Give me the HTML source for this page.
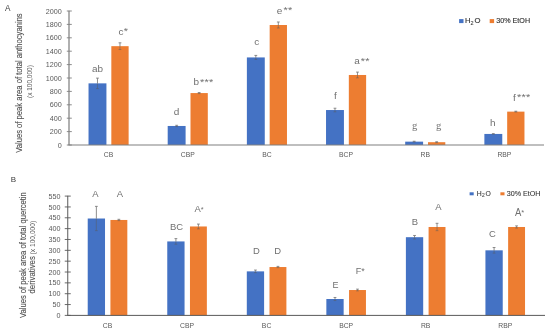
<!DOCTYPE html>
<html><head><meta charset="utf-8"><title>Figure</title>
<style>
html,body{margin:0;padding:0;background:#fff;}
svg{display:block;filter:blur(0.3px);font-family:"Liberation Sans","DejaVu Sans",sans-serif;}
</style></head><body>
<svg width="550" height="333" viewBox="0 0 550 333">
<rect width="550" height="333" fill="#fff"/>
<rect x="88.53" y="83.36" width="17.9" height="61.64" fill="#4472c4"/>
<path d="M97.48 78.13V83.36M96.08 78.13h2.8" stroke="#7a7a7a" stroke-width="0.85" fill="none"/>
<path d="M97.48 83.36V88.59M96.08 88.59h2.8" stroke="#5a5a5a" stroke-opacity="0.55" stroke-width="0.85" fill="none"/>
<rect x="111.33" y="46.17" width="17.3" height="98.83" fill="#ed7d31"/>
<path d="M119.98 42.82V46.17M118.58 42.82h2.8" stroke="#7a7a7a" stroke-width="0.85" fill="none"/>
<path d="M119.98 46.17V49.52M118.58 49.52h2.8" stroke="#5a5a5a" stroke-opacity="0.55" stroke-width="0.85" fill="none"/>
<text x="108.58" y="157.0" font-size="6.8" text-anchor="middle" fill="#595959">CB</text>
<rect x="167.70" y="125.97" width="17.9" height="19.03" fill="#4472c4"/>
<path d="M176.65 125.30V125.97M175.25 125.30h2.8" stroke="#7a7a7a" stroke-width="0.85" fill="none"/>
<path d="M176.65 125.97V126.64M175.25 126.64h2.8" stroke="#5a5a5a" stroke-opacity="0.55" stroke-width="0.85" fill="none"/>
<rect x="190.50" y="93.07" width="17.3" height="51.93" fill="#ed7d31"/>
<path d="M199.15 92.54V93.07M197.75 92.54h2.8" stroke="#7a7a7a" stroke-width="0.85" fill="none"/>
<path d="M199.15 93.07V93.61M197.75 93.61h2.8" stroke="#5a5a5a" stroke-opacity="0.55" stroke-width="0.85" fill="none"/>
<text x="187.75" y="157.0" font-size="6.8" text-anchor="middle" fill="#595959">CBP</text>
<rect x="246.87" y="57.43" width="17.9" height="87.57" fill="#4472c4"/>
<path d="M255.82 55.42V57.43M254.42 55.42h2.8" stroke="#7a7a7a" stroke-width="0.85" fill="none"/>
<path d="M255.82 57.43V59.44M254.42 59.44h2.8" stroke="#5a5a5a" stroke-opacity="0.55" stroke-width="0.85" fill="none"/>
<rect x="269.67" y="25.00" width="17.3" height="120.00" fill="#ed7d31"/>
<path d="M278.32 21.99V25.00M276.92 21.99h2.8" stroke="#7a7a7a" stroke-width="0.85" fill="none"/>
<path d="M278.32 25.00V28.02M276.92 28.02h2.8" stroke="#5a5a5a" stroke-opacity="0.55" stroke-width="0.85" fill="none"/>
<text x="266.92" y="157.0" font-size="6.8" text-anchor="middle" fill="#595959">BC</text>
<rect x="326.03" y="110.03" width="17.9" height="34.97" fill="#4472c4"/>
<path d="M334.98 108.22V110.03M333.58 108.22h2.8" stroke="#7a7a7a" stroke-width="0.85" fill="none"/>
<path d="M334.98 110.03V111.83M333.58 111.83h2.8" stroke="#5a5a5a" stroke-opacity="0.55" stroke-width="0.85" fill="none"/>
<rect x="348.83" y="74.98" width="17.3" height="70.02" fill="#ed7d31"/>
<path d="M357.48 72.10V74.98M356.08 72.10h2.8" stroke="#7a7a7a" stroke-width="0.85" fill="none"/>
<path d="M357.48 74.98V77.87M356.08 77.87h2.8" stroke="#5a5a5a" stroke-opacity="0.55" stroke-width="0.85" fill="none"/>
<text x="346.08" y="157.0" font-size="6.8" text-anchor="middle" fill="#595959">BCP</text>
<rect x="405.20" y="141.65" width="17.9" height="3.35" fill="#4472c4"/>
<path d="M414.15 141.25V141.65M412.75 141.25h2.8" stroke="#7a7a7a" stroke-width="0.85" fill="none"/>
<path d="M414.15 141.65V142.05M412.75 142.05h2.8" stroke="#5a5a5a" stroke-opacity="0.55" stroke-width="0.85" fill="none"/>
<rect x="428.00" y="142.19" width="17.3" height="2.81" fill="#ed7d31"/>
<path d="M436.65 141.78V142.19M435.25 141.78h2.8" stroke="#7a7a7a" stroke-width="0.85" fill="none"/>
<path d="M436.65 142.19V142.59M435.25 142.59h2.8" stroke="#5a5a5a" stroke-opacity="0.55" stroke-width="0.85" fill="none"/>
<text x="425.25" y="157.0" font-size="6.8" text-anchor="middle" fill="#595959">RB</text>
<rect x="484.37" y="133.94" width="17.9" height="11.06" fill="#4472c4"/>
<path d="M493.32 133.68V133.94M491.92 133.68h2.8" stroke="#7a7a7a" stroke-width="0.85" fill="none"/>
<path d="M493.32 133.94V134.21M491.92 134.21h2.8" stroke="#5a5a5a" stroke-opacity="0.55" stroke-width="0.85" fill="none"/>
<rect x="507.17" y="111.63" width="17.3" height="33.37" fill="#ed7d31"/>
<path d="M515.82 111.23V111.63M514.42 111.23h2.8" stroke="#7a7a7a" stroke-width="0.85" fill="none"/>
<path d="M515.82 111.63V112.04M514.42 112.04h2.8" stroke="#5a5a5a" stroke-opacity="0.55" stroke-width="0.85" fill="none"/>
<text x="504.42" y="157.0" font-size="6.8" text-anchor="middle" fill="#595959">RBP</text>
<path d="M69.0 10.7V145.0" stroke="#808080" stroke-width="1.25" fill="none"/>
<path d="M68.375 145.0H544" stroke="#808080" stroke-width="1.05" fill="none"/>
<path d="M66.8 145.00H71.8" stroke="#808080" stroke-width="0.9" fill="none"/>
<text x="61.8" y="147.55" font-size="7.2" text-anchor="end" fill="#595959">0</text>
<path d="M66.8 131.60H71.8" stroke="#808080" stroke-width="0.9" fill="none"/>
<text x="61.8" y="134.15" font-size="7.2" text-anchor="end" fill="#595959">200</text>
<path d="M66.8 118.20H71.8" stroke="#808080" stroke-width="0.9" fill="none"/>
<text x="61.8" y="120.75" font-size="7.2" text-anchor="end" fill="#595959">400</text>
<path d="M66.8 104.80H71.8" stroke="#808080" stroke-width="0.9" fill="none"/>
<text x="61.8" y="107.35" font-size="7.2" text-anchor="end" fill="#595959">600</text>
<path d="M66.8 91.40H71.8" stroke="#808080" stroke-width="0.9" fill="none"/>
<text x="61.8" y="93.95" font-size="7.2" text-anchor="end" fill="#595959">800</text>
<path d="M66.8 78.00H71.8" stroke="#808080" stroke-width="0.9" fill="none"/>
<text x="61.8" y="80.55" font-size="7.2" text-anchor="end" fill="#595959">1000</text>
<path d="M66.8 64.60H71.8" stroke="#808080" stroke-width="0.9" fill="none"/>
<text x="61.8" y="67.15" font-size="7.2" text-anchor="end" fill="#595959">1200</text>
<path d="M66.8 51.20H71.8" stroke="#808080" stroke-width="0.9" fill="none"/>
<text x="61.8" y="53.75" font-size="7.2" text-anchor="end" fill="#595959">1400</text>
<path d="M66.8 37.80H71.8" stroke="#808080" stroke-width="0.9" fill="none"/>
<text x="61.8" y="40.35" font-size="7.2" text-anchor="end" fill="#595959">1600</text>
<path d="M66.8 24.40H71.8" stroke="#808080" stroke-width="0.9" fill="none"/>
<text x="61.8" y="26.95" font-size="7.2" text-anchor="end" fill="#595959">1800</text>
<path d="M66.8 11.00H71.8" stroke="#808080" stroke-width="0.9" fill="none"/>
<text x="61.8" y="13.55" font-size="7.2" text-anchor="end" fill="#595959">2000</text>
<text transform="translate(123.40 34.50) scale(1.22 1)" font-size="8.2" text-anchor="middle" fill="#707070"><tspan letter-spacing="0.3">c</tspan><tspan font-size="8.9" dy="-0.35" letter-spacing="0.25">*</tspan></text>
<text transform="translate(97.50 72.40) scale(1.22 1)" font-size="8.2" text-anchor="middle" fill="#707070">ab</text>
<text transform="translate(176.60 114.90) scale(1.22 1)" font-size="8.2" text-anchor="middle" fill="#707070">d</text>
<text transform="translate(203.50 85.20) scale(1.22 1)" font-size="8.2" text-anchor="middle" fill="#707070"><tspan letter-spacing="0.9">b</tspan><tspan font-size="8.9" dy="-0.35" letter-spacing="0.25">***</tspan></text>
<text transform="translate(256.70 45.20) scale(1.22 1)" font-size="8.2" text-anchor="middle" fill="#707070">c</text>
<text transform="translate(284.60 13.60) scale(1.22 1)" font-size="8.2" text-anchor="middle" fill="#707070"><tspan letter-spacing="0.9">e</tspan><tspan font-size="8.9" dy="-0.35" letter-spacing="0.25">**</tspan></text>
<text transform="translate(335.50 98.60) scale(1.22 1)" font-size="8.2" text-anchor="middle" fill="#707070">f</text>
<text transform="translate(362.00 64.00) scale(1.22 1)" font-size="8.2" text-anchor="middle" fill="#707070"><tspan letter-spacing="0.9">a</tspan><tspan font-size="8.9" dy="-0.35" letter-spacing="0.25">**</tspan></text>
<text transform="translate(492.80 126.20) scale(1.22 1)" font-size="8.2" text-anchor="middle" fill="#707070">h</text>
<text transform="translate(521.80 100.60) scale(1.22 1)" font-size="8.2" text-anchor="middle" fill="#707070"><tspan letter-spacing="0.9">f</tspan><tspan font-size="8.9" dy="-0.35" letter-spacing="0.25">***</tspan></text>
<text transform="translate(414.70 129.00) scale(1 1)" font-size="10.6" text-anchor="middle" fill="#707070" font-family="Liberation Serif, DejaVu Serif, serif">g</text>
<text transform="translate(438.60 129.00) scale(1 1)" font-size="10.6" text-anchor="middle" fill="#707070" font-family="Liberation Serif, DejaVu Serif, serif">g</text>
<rect x="87.72" y="218.51" width="17.3" height="96.89" fill="#4472c4"/>
<path d="M96.37 206.36V218.51M94.97 206.36h2.8" stroke="#7a7a7a" stroke-width="0.85" fill="none"/>
<path d="M96.37 218.51V230.65M94.97 230.65h2.8" stroke="#5a5a5a" stroke-opacity="0.55" stroke-width="0.85" fill="none"/>
<rect x="110.42" y="219.96" width="16.9" height="95.44" fill="#ed7d31"/>
<path d="M118.87 219.31V219.96M117.47 219.31h2.8" stroke="#7a7a7a" stroke-width="0.85" fill="none"/>
<path d="M118.87 219.96V220.61M117.47 220.61h2.8" stroke="#5a5a5a" stroke-opacity="0.55" stroke-width="0.85" fill="none"/>
<text x="107.52" y="327.6" font-size="6.8" text-anchor="middle" fill="#595959">CB</text>
<rect x="167.26" y="241.43" width="17.3" height="73.97" fill="#4472c4"/>
<path d="M175.91 238.61V241.43M174.51 238.61h2.8" stroke="#7a7a7a" stroke-width="0.85" fill="none"/>
<path d="M175.91 241.43V244.25M174.51 244.25h2.8" stroke="#5a5a5a" stroke-opacity="0.55" stroke-width="0.85" fill="none"/>
<rect x="189.96" y="226.47" width="16.9" height="88.93" fill="#ed7d31"/>
<path d="M198.41 224.08V226.47M197.01 224.08h2.8" stroke="#7a7a7a" stroke-width="0.85" fill="none"/>
<path d="M198.41 226.47V228.85M197.01 228.85h2.8" stroke="#5a5a5a" stroke-opacity="0.55" stroke-width="0.85" fill="none"/>
<text x="187.06" y="327.6" font-size="6.8" text-anchor="middle" fill="#595959">CBP</text>
<rect x="246.80" y="271.37" width="17.3" height="44.03" fill="#4472c4"/>
<path d="M255.45 270.07V271.37M254.05 270.07h2.8" stroke="#7a7a7a" stroke-width="0.85" fill="none"/>
<path d="M255.45 271.37V272.67M254.05 272.67h2.8" stroke="#5a5a5a" stroke-opacity="0.55" stroke-width="0.85" fill="none"/>
<rect x="269.50" y="267.03" width="16.9" height="48.37" fill="#ed7d31"/>
<path d="M277.95 266.38V267.03M276.55 266.38h2.8" stroke="#7a7a7a" stroke-width="0.85" fill="none"/>
<path d="M277.95 267.03V267.68M276.55 267.68h2.8" stroke="#5a5a5a" stroke-opacity="0.55" stroke-width="0.85" fill="none"/>
<text x="266.60" y="327.6" font-size="6.8" text-anchor="middle" fill="#595959">BC</text>
<rect x="326.35" y="299.00" width="17.3" height="16.40" fill="#4472c4"/>
<path d="M335.00 297.48V299.00M333.60 297.48h2.8" stroke="#7a7a7a" stroke-width="0.85" fill="none"/>
<path d="M335.00 299.00V300.52M333.60 300.52h2.8" stroke="#5a5a5a" stroke-opacity="0.55" stroke-width="0.85" fill="none"/>
<rect x="349.05" y="290.02" width="16.9" height="25.38" fill="#ed7d31"/>
<path d="M357.50 289.15V290.02M356.10 289.15h2.8" stroke="#7a7a7a" stroke-width="0.85" fill="none"/>
<path d="M357.50 290.02V290.89M356.10 290.89h2.8" stroke="#5a5a5a" stroke-opacity="0.55" stroke-width="0.85" fill="none"/>
<text x="346.15" y="327.6" font-size="6.8" text-anchor="middle" fill="#595959">BCP</text>
<rect x="405.89" y="237.20" width="17.3" height="78.20" fill="#4472c4"/>
<path d="M414.54 235.47V237.20M413.14 235.47h2.8" stroke="#7a7a7a" stroke-width="0.85" fill="none"/>
<path d="M414.54 237.20V238.94M413.14 238.94h2.8" stroke="#5a5a5a" stroke-opacity="0.55" stroke-width="0.85" fill="none"/>
<rect x="428.59" y="226.99" width="16.9" height="88.41" fill="#ed7d31"/>
<path d="M437.04 223.30V226.99M435.64 223.30h2.8" stroke="#7a7a7a" stroke-width="0.85" fill="none"/>
<path d="M437.04 226.99V230.68M435.64 230.68h2.8" stroke="#5a5a5a" stroke-opacity="0.55" stroke-width="0.85" fill="none"/>
<text x="425.69" y="327.6" font-size="6.8" text-anchor="middle" fill="#595959">RB</text>
<rect x="485.43" y="250.33" width="17.3" height="65.07" fill="#4472c4"/>
<path d="M494.08 247.51V250.33M492.68 247.51h2.8" stroke="#7a7a7a" stroke-width="0.85" fill="none"/>
<path d="M494.08 250.33V253.15M492.68 253.15h2.8" stroke="#5a5a5a" stroke-opacity="0.55" stroke-width="0.85" fill="none"/>
<rect x="508.13" y="226.99" width="16.9" height="88.41" fill="#ed7d31"/>
<path d="M516.58 225.90V226.99M515.18 225.90h2.8" stroke="#7a7a7a" stroke-width="0.85" fill="none"/>
<path d="M516.58 226.99V228.07M515.18 228.07h2.8" stroke="#5a5a5a" stroke-opacity="0.55" stroke-width="0.85" fill="none"/>
<text x="505.23" y="327.6" font-size="6.8" text-anchor="middle" fill="#595959">RBP</text>
<path d="M67.75 195.79999999999998V315.4" stroke="#5a5a5a" stroke-width="1.0" fill="none"/>
<path d="M67.25 315.4H545" stroke="#5a5a5a" stroke-width="1.0" fill="none"/>
<path d="M64.75 315.40H70.75" stroke="#5a5a5a" stroke-width="0.9" fill="none"/>
<text x="60.6" y="317.95" font-size="7.2" text-anchor="end" fill="#595959">0</text>
<path d="M64.75 304.55H70.75" stroke="#5a5a5a" stroke-width="0.9" fill="none"/>
<text x="60.6" y="307.10" font-size="7.2" text-anchor="end" fill="#595959">50</text>
<path d="M64.75 293.71H70.75" stroke="#5a5a5a" stroke-width="0.9" fill="none"/>
<text x="60.6" y="296.26" font-size="7.2" text-anchor="end" fill="#595959">100</text>
<path d="M64.75 282.86H70.75" stroke="#5a5a5a" stroke-width="0.9" fill="none"/>
<text x="60.6" y="285.41" font-size="7.2" text-anchor="end" fill="#595959">150</text>
<path d="M64.75 272.02H70.75" stroke="#5a5a5a" stroke-width="0.9" fill="none"/>
<text x="60.6" y="274.57" font-size="7.2" text-anchor="end" fill="#595959">200</text>
<path d="M64.75 261.17H70.75" stroke="#5a5a5a" stroke-width="0.9" fill="none"/>
<text x="60.6" y="263.72" font-size="7.2" text-anchor="end" fill="#595959">250</text>
<path d="M64.75 250.33H70.75" stroke="#5a5a5a" stroke-width="0.9" fill="none"/>
<text x="60.6" y="252.88" font-size="7.2" text-anchor="end" fill="#595959">300</text>
<path d="M64.75 239.48H70.75" stroke="#5a5a5a" stroke-width="0.9" fill="none"/>
<text x="60.6" y="242.03" font-size="7.2" text-anchor="end" fill="#595959">350</text>
<path d="M64.75 228.64H70.75" stroke="#5a5a5a" stroke-width="0.9" fill="none"/>
<text x="60.6" y="231.19" font-size="7.2" text-anchor="end" fill="#595959">400</text>
<path d="M64.75 217.79H70.75" stroke="#5a5a5a" stroke-width="0.9" fill="none"/>
<text x="60.6" y="220.34" font-size="7.2" text-anchor="end" fill="#595959">450</text>
<path d="M64.75 206.95H70.75" stroke="#5a5a5a" stroke-width="0.9" fill="none"/>
<text x="60.6" y="209.50" font-size="7.2" text-anchor="end" fill="#595959">500</text>
<path d="M64.75 196.10H70.75" stroke="#5a5a5a" stroke-width="0.9" fill="none"/>
<text x="60.6" y="198.65" font-size="7.2" text-anchor="end" fill="#595959">550</text>
<text transform="translate(95.40 197.00) scale(1.05 1)" font-size="9.0" text-anchor="middle" fill="#707070">A</text>
<text transform="translate(120.00 197.00) scale(1.05 1)" font-size="9.0" text-anchor="middle" fill="#707070">A</text>
<text transform="translate(176.50 230.20) scale(1.05 1)" font-size="9.0" text-anchor="middle" fill="#707070">BC</text>
<text transform="translate(256.30 254.40) scale(1.05 1)" font-size="9.0" text-anchor="middle" fill="#707070">D</text>
<text transform="translate(277.70 254.40) scale(1.05 1)" font-size="9.0" text-anchor="middle" fill="#707070">D</text>
<text transform="translate(415.00 225.30) scale(1.05 1)" font-size="9.0" text-anchor="middle" fill="#707070">B</text>
<text transform="translate(438.30 210.40) scale(1.05 1)" font-size="9.0" text-anchor="middle" fill="#707070">A</text>
<text transform="translate(492.50 236.60) scale(1.05 1)" font-size="9.0" text-anchor="middle" fill="#707070">C</text>
<text transform="translate(335.60 288.10) scale(1.0 1)" font-size="9.0" text-anchor="middle" fill="#707070">E</text>
<text transform="translate(199.00 212.00) scale(1.05 1)" font-size="9.0" text-anchor="middle" fill="#707070">A<tspan font-size="7" dy="-0.4">*</tspan></text>
<text transform="translate(360.30 274.00) scale(1.0 1)" font-size="9.0" text-anchor="middle" fill="#707070">F<tspan font-size="9" dy="-0.2">*</tspan></text>
<text transform="translate(519.60 215.50) scale(0.95 1)" font-size="10.0" text-anchor="middle" fill="#707070">A<tspan font-size="8" dy="-0.6">*</tspan></text>
<text x="5.0" y="10.8" font-size="8.2" fill="#3a3a3a">A</text>
<text x="10.7" y="181.8" font-size="8.0" fill="#3a3a3a">B</text>
<text transform="translate(22.3 152.8) rotate(-90)" font-size="9.0" textLength="139.5" lengthAdjust="spacingAndGlyphs" fill="#505050" stroke="#505050" stroke-width="0.12">Values of peak area of total anthocyanins</text>
<text transform="translate(32.3 97.9) rotate(-90)" font-size="7.8" textLength="32.7" lengthAdjust="spacingAndGlyphs" fill="#595959">(x 100,000)</text>
<text transform="translate(25.6 318) rotate(-90)" font-size="8.9" textLength="125.8" lengthAdjust="spacingAndGlyphs" fill="#505050" stroke="#505050" stroke-width="0.12">Values of peak area of total quercetin</text>
<text transform="translate(35.3 293.5) rotate(-90)" font-size="8.9" textLength="37.3" lengthAdjust="spacingAndGlyphs" fill="#505050" stroke="#505050" stroke-width="0.12">derivatives</text>
<text transform="translate(35.3 254.4) rotate(-90)" font-size="7.4" textLength="33.6" lengthAdjust="spacingAndGlyphs" fill="#595959">(x 100,000)</text>
<rect x="459.1" y="19.1" width="4.4" height="4" fill="#4472c4"/>
<text transform="translate(465.1 23.3) scale(0.95 1)" font-size="8.1" fill="#333" stroke="#333" stroke-width="0.15">H<tspan x="5.58" dy="1.2" font-size="5.83" stroke-width="0.05">2</tspan><tspan x="9.79" dy="-1.2">O</tspan></text>
<rect x="489.7" y="19.1" width="4.4" height="4" fill="#ed7d31"/>
<text x="496.3" y="23.3" font-size="8.1" textLength="33.8" lengthAdjust="spacingAndGlyphs" fill="#333" stroke="#333" stroke-width="0.15">30% EtOH</text>
<rect x="469.6" y="192.3" width="4.1" height="3" fill="#4472c4"/>
<text transform="translate(476.8 196.2) scale(0.95 1)" font-size="7.2" fill="#333" stroke="#333" stroke-width="0.08">H<tspan x="5.58" dy="1.2" font-size="5.18" stroke-width="0.05">2</tspan><tspan x="9.16" dy="-1.2">O</tspan></text>
<rect x="500.4" y="192.3" width="4.1" height="3" fill="#ed7d31"/>
<text x="506.7" y="196.2" font-size="7.2" textLength="33.8" lengthAdjust="spacingAndGlyphs" fill="#333" stroke="#333" stroke-width="0.08">30% EtOH</text>
</svg></body></html>
